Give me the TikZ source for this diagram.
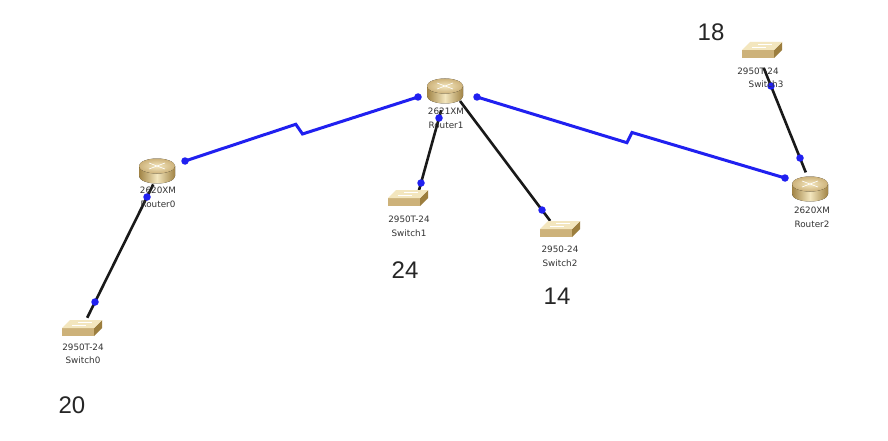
\documentclass[tikz,border=0pt]{standalone}
\usepackage{fontspec}
\setmainfont{Liberation Sans}
\newfontfamily\lblfont{DejaVu Sans}
\usetikzlibrary{calc,backgrounds}
\definecolor{goldD}{HTML}{9C7E3E}
\definecolor{goldL}{HTML}{F3E6BE}
\definecolor{goldM}{HTML}{CDB27A}
\definecolor{linkblue}{HTML}{2020F0}
\tikzset{
  router/.style={minimum width=38pt,minimum height=28pt,inner sep=0pt,
    path picture={
      \fill[left color=goldD,right color=goldD,middle color=goldL]
        ([xshift=1pt,yshift=4pt]path picture bounding box.west) -- ([xshift=1pt,yshift=-6pt]path picture bounding box.west)
        arc[start angle=180,end angle=360,x radius=18pt,y radius=7.5pt] -- ++(0pt,10pt) -- cycle;
      \fill[inner color=goldL,outer color=goldM] ([yshift=4pt]path picture bounding box.center) ellipse[x radius=18pt,y radius=7.5pt];
      \draw[white,line width=0.6pt] ([yshift=4pt]path picture bounding box.center) +(-8pt,-3pt) -- +(8pt,3pt) +(-8pt,3pt) -- +(8pt,-3pt);
    }},
  switchnode/.style={minimum width=40pt,minimum height=18pt,inner sep=0pt,
    path picture={
      \coordinate (pp) at (path picture bounding box.south west);
      \fill[goldM] ([yshift=1pt]pp) -- ++(32pt,0pt) -- ++(0pt,8pt) -- ++(-32pt,0pt) -- cycle;
      \fill[goldD] ([xshift=32pt,yshift=1pt]pp) -- ++(8pt,8pt) -- ++(0pt,8pt) -- ++(-8pt,-8pt) -- cycle;
      \fill[goldL] ([yshift=9pt]pp) -- ++(32pt,0pt) -- ++(8pt,8pt) -- ++(-32pt,0pt) -- cycle;
      \draw[white,line width=0.5pt] ([xshift=10pt,yshift=12pt]pp) -- ++(14pt,0pt) ([xshift=16pt,yshift=15pt]pp) -- ++(14pt,0pt);
    }},
  lbl/.style={font=\lblfont\fontsize{8.8}{9}\selectfont,text=black!80,inner sep=0pt},
  big/.style={font=\fontsize{24}{26}\selectfont,text=black!85,inner sep=0pt},
  serial/.style={draw=linkblue,line width=3pt},
  eth/.style={draw=black!90,line width=2.6pt},
  dot/.style={circle,fill=linkblue,inner sep=0pt,minimum size=7.5pt}
}
\begin{document}
\begin{tikzpicture}[x=1pt,y=-1pt]
\useasboundingbox (0,0) rectangle (888,441);
\node[router] (r0) at (157,170) {};
\node[router] (r1) at (445,90) {};
\node[router] (r2) at (810,188) {};
\node[switchnode] (s0) at (82,328) {};
\node[switchnode] (s1) at (408,198) {};
\node[switchnode] (s2) at (560,229) {};
\node[switchnode] (s3) at (762,50) {};
\node[lbl] (r0a) at (158,190) {2620XM};
\node[lbl] (r0b) at (158,204) {Router0};
\node[lbl] (r1a) at (446,111) {2621XM};
\node[lbl] (r1b) at (446,125) {Router1};
\node[lbl] (r2a) at (812,210) {2620XM};
\node[lbl] (r2b) at (812,224) {Router2};
\node[lbl] (s0a) at (83,347) {2950T-24};
\node[lbl] (s0b) at (83,360) {Switch0};
\node[lbl] (s1a) at (409,219) {2950T-24};
\node[lbl] (s1b) at (409,233) {Switch1};
\node[lbl] (s2a) at (560,249) {2950-24};
\node[lbl] (s2b) at (560,263) {Switch2};
\node[lbl] (s3a) at (758,71) {2950T-24};
\node[lbl] (s3b) at (766,84) {Switch3};
\node[big] (n20) at (72,405) {20};
\node[big] (n24) at (405,270) {24};
\node[big] (n14) at (557,296) {14};
\node[big] (n18) at (711,32) {18};
\begin{scope}[on background layer]
\fill[white] (0,0) rectangle (888,441);
\coordinate (p1) at (185,161);
\coordinate (p2) at (418,97);
\coordinate (p3) at (477,97);
\coordinate (p4) at (785,178);
\coordinate (p5) at (147,197);
\coordinate (p6) at (95,302);
\coordinate (p7) at (439,118);
\coordinate (p8) at (421,183);
\coordinate (p9) at (542,210);
\coordinate (p10) at (771,86);
\coordinate (p11) at (800,158);
\coordinate (q1) at (460,101);
\draw[serial] (p1) -- ($(p1)!0.48!(p2)+(-1,-6)$) -- ($(p1)!0.5!(p2)+(1,5)$) -- (p2);
\draw[serial] (p3) -- ($(p3)!0.49!(p4)+(-1,6)$) -- ($(p3)!0.5!(p4)+(1,-5)$) -- (p4);
\draw[eth] ($(p5)!-0.12!(p6)$) -- ($(p5)!1.15!(p6)$);
\draw[eth] ($(p7)!-0.12!(p8)$) -- ($(p7)!1.15!(p8)$);
\draw[eth] (q1) -- ($(q1)!1.1!(p9)$);
\draw[eth] ($(p10)!-0.25!(p11)$) -- ($(p10)!1.2!(p11)$);
\foreach \i in {1,...,11} \node[dot] (d\i) at (p\i) {};
\end{scope}
\end{tikzpicture}
\end{document}
